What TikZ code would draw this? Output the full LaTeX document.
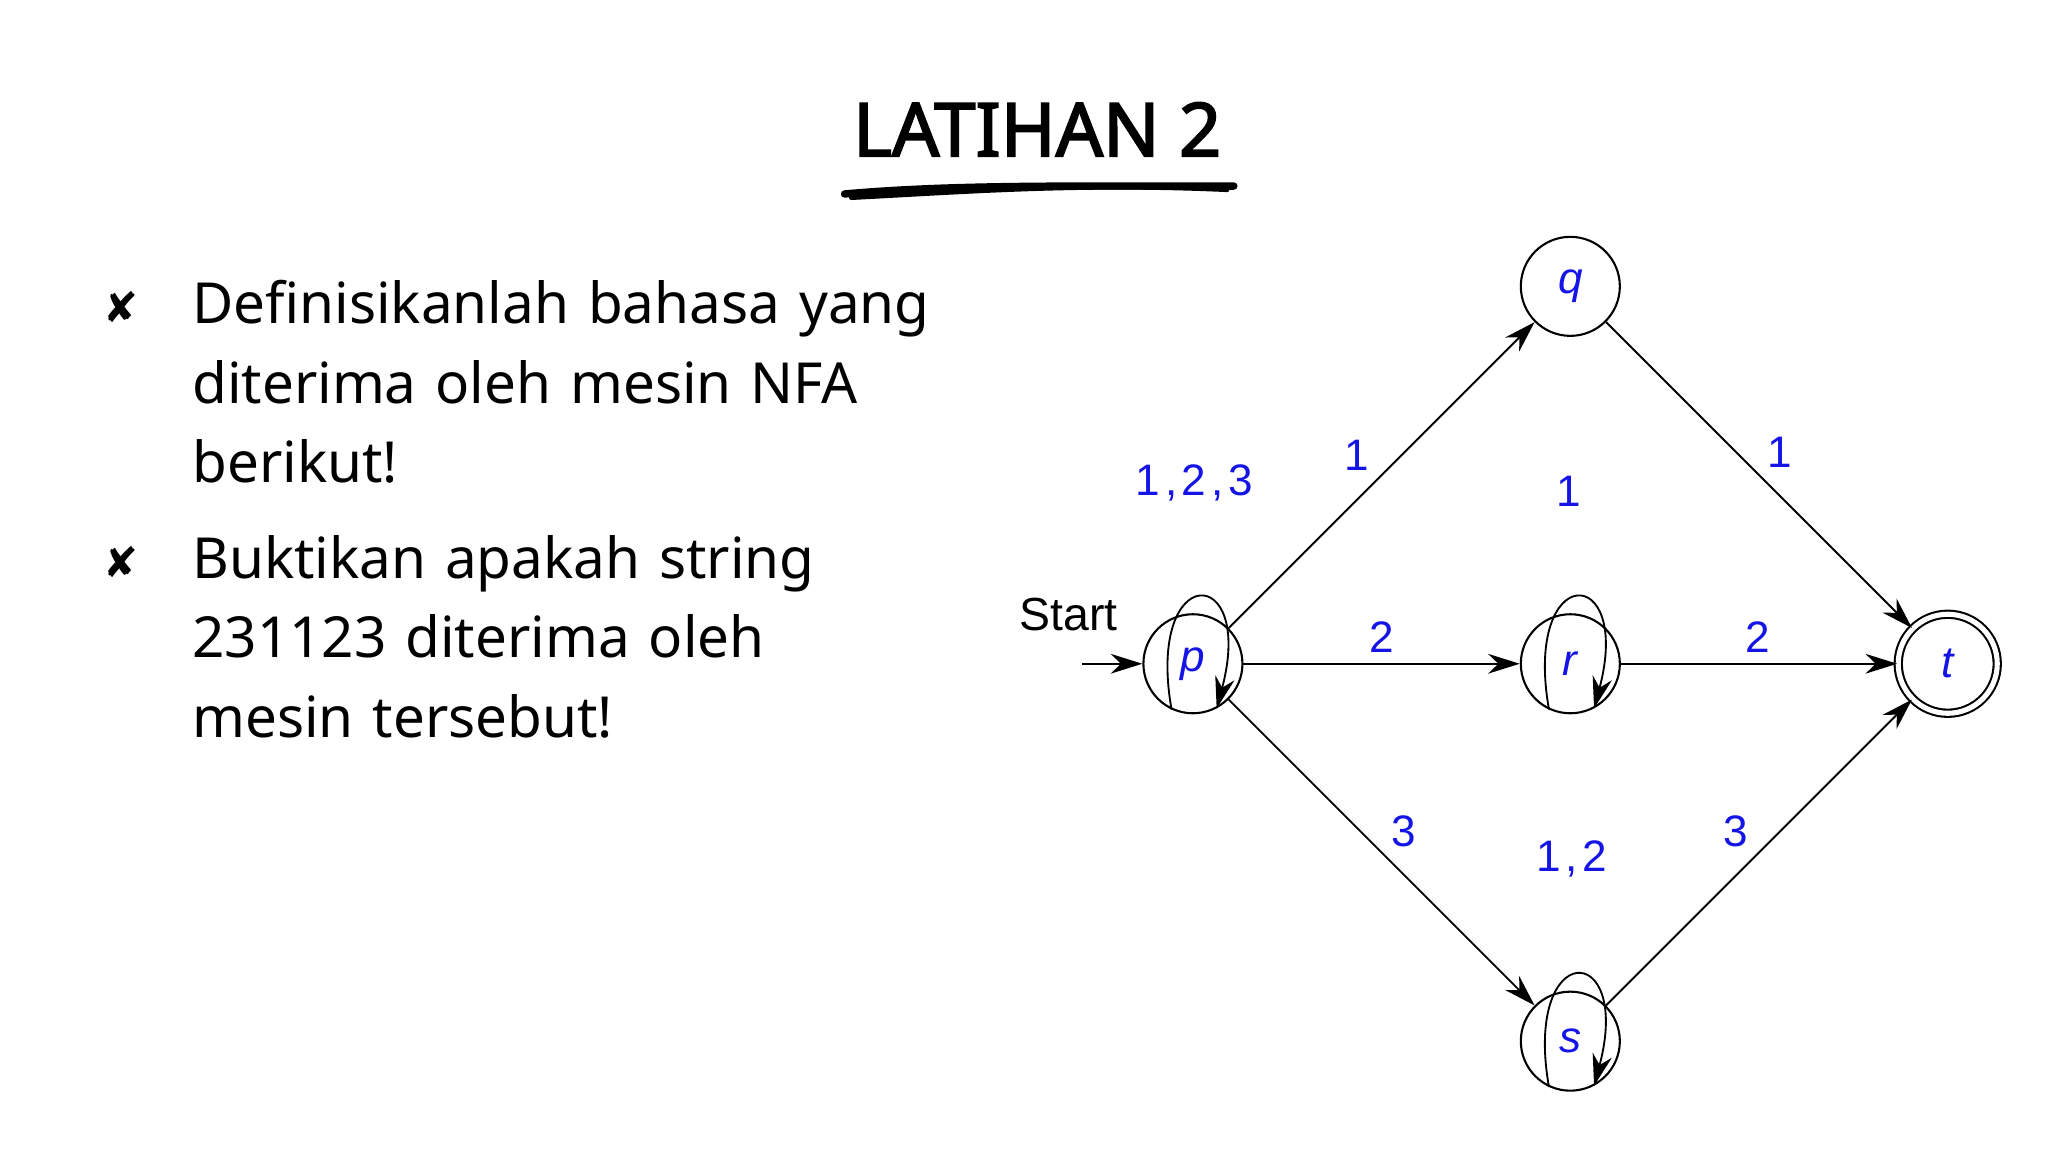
\documentclass[tikz,border=0pt]{standalone}
\usepackage{fontspec}
\setmainfont{Noto Sans}
\newfontfamily\titlefont[FakeBold=2.5]{Noto Sans}
\newfontfamily\helv{Liberation Sans}
\newfontfamily\djsym{DejaVu Sans}
\usetikzlibrary{arrows.meta}
\definecolor{lblue}{RGB}{20,20,230}
\tikzset{
  st/.style={circle,draw,line width=0.45pt,minimum size=0.75cm,inner sep=0pt,font=\helv\itshape\fontsize{9.5}{11}\selectfont,text=lblue},
  acc/.style={st,double,double distance=1.1pt},
  tr/.style={draw,line width=0.4pt,-{Stealth[length=2.4mm,width=1.5mm]}},
  lb/.style={font=\helv\fontsize{9.5}{11}\selectfont,text=lblue,inner sep=0pt},
  body/.style={font=\fontsize{12.2}{17.1}\selectfont,align=left,anchor=north west,inner sep=0pt,text width=5.7cm},
  bul/.style={font=\djsym\bfseries\fontsize{9}{10}\selectfont,inner sep=0pt}
}
\begin{document}
\begin{tikzpicture}[x=0.01cm,y=-0.01cm]
\useasboundingbox (0,0) rectangle (1552,873);
\node[font=\titlefont\fontsize{16}{18}\selectfont,inner sep=0pt] (title) at (786,98) {LATIHAN 2};
\draw[line width=1.6pt,line cap=round] (640,147) .. controls (720,140) and (800,141) .. (935,141);
\draw[line width=0.9pt,line cap=round] (645,150) .. controls (740,145) and (820,139) .. (930,144);
\node[bul] (b1) at (92,233) {✘};
\node[bul] (b2) at (92,426) {✘};
\node[body] (t1) at (145,212) {Definisikanlah bahasa yang diterima oleh mesin NFA berikut!};
\node[body] (t2) at (145,405) {Buktikan apakah string 231123 diterima oleh mesin tersebut!};

\node[st] (p) at (904,503) {p};
\node[st] (q) at (1190,217) {q};
\node[st] (r) at (1190,503) {r};
\node[st] (s) at (1190,789) {s};
\node[acc] (t) at (1476,503) {t};
\coordinate (start) at (820,503);
\node[font=\helv\fontsize{10}{12}\selectfont,inner sep=0pt] (startl) at (810,466) {Start};
\draw[tr] (start) -- (p);
\draw[tr] (p) -- (q);
\draw[tr] (q) -- (t);
\draw[tr] (p) -- (r);
\draw[tr] (r) -- (t);
\draw[tr] (p) -- (s);
\draw[tr] (s) -- (t);
\draw[tr] (p.-115) .. controls +(-100:115) and +(-75:115) .. (p.-62);
\draw[tr] (r.-115) .. controls +(-100:115) and +(-75:115) .. (r.-62);
\draw[tr] (s.-115) .. controls +(-100:115) and +(-75:115) .. (s.-62);
\node[lb] (l1) at (1028,345) {1};
\node[lb] (l2) at (1349,343) {1};
\node[lb] (l3) at (1047,483) {2};
\node[lb] (l4) at (1332,483) {2};
\node[lb] (l5) at (1064,630) {3};
\node[lb] (l6) at (1315,630) {3};
\node[lb] (l7) at (905,366) {1\kern1pt,\kern1pt2\kern1pt,\kern1pt3};
\node[lb] (l8) at (1189,372) {1};
\node[lb] (l9) at (1191,651) {1\kern1pt,\kern1pt2};
\end{tikzpicture}
\end{document}
